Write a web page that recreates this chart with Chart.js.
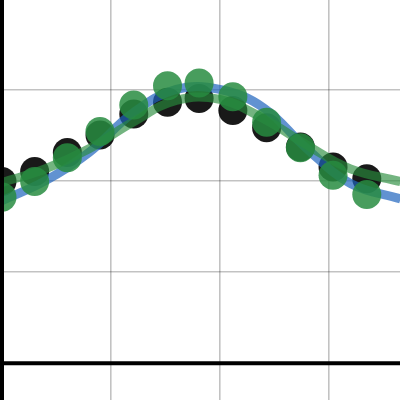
<!DOCTYPE html>
<html>
<head>
<meta charset="utf-8">
<script src="https://cdn.jsdelivr.net/npm/chart.js@4/dist/chart.umd.min.js"></script>
<style>
html,body{margin:0;padding:0;background:#fff;}
#wrap{width:400px;height:400px;position:relative;}
</style>
</head>
<body>
<div id="wrap"><canvas id="c"></canvas></div>
<script>
// Sample points (x positions shared by both scatter series)
const pointX = [0, 0.30, 0.60, 0.90, 1.21, 1.52, 1.81, 2.12, 2.43, 2.74, 3.04, 3.35];
const blackY = [1.99, 2.10, 2.31, 2.50, 2.73, 2.86, 2.90, 2.77, 2.58, 2.37, 2.15, 2.02];
const greenY = [1.82, 1.99, 2.25, 2.54, 2.83, 3.04, 3.07, 2.92, 2.64, 2.36, 2.06, 1.85];

// Smooth curves
const curveX = [0, 0.40, 0.80, 1.20, 1.60, 2.00, 2.40, 2.80, 3.20, 3.66];
const blueCurveY = [1.78, 2.00, 2.31, 2.74, 3.00, 3.00, 2.80, 2.35, 1.97, 1.80];
const greenCurveY = [1.98, 2.13, 2.35, 2.64, 2.88, 2.89, 2.68, 2.39, 2.13, 1.99];

const xRange = [-0.0184, 3.655];
const yRange = [-0.402, 3.979];

function pairs(xs, ys){ return xs.map((x,i)=>({x:x, y:ys[i]})); }

const axisLines = {
  id: 'axisLines',
  afterDatasetsDraw(chart){
    const {ctx, chartArea, scales} = chart;
    const x0 = scales.x.getPixelForValue(0);
    const y0 = scales.y.getPixelForValue(0);
    ctx.save();
    ctx.strokeStyle = '#000';
    ctx.lineWidth = 4;
    ctx.beginPath();
    ctx.moveTo(x0, chartArea.top); ctx.lineTo(x0, chartArea.bottom);
    ctx.moveTo(chartArea.left, y0); ctx.lineTo(chartArea.right, y0);
    ctx.stroke();
    ctx.restore();
  }
};

const gridOpts = {
  drawTicks: false,
  color: (c) => (c.tick && c.tick.value === 0) ? 'rgba(0,0,0,0)' : 'rgba(0,0,0,0.24)',
  lineWidth: 1.6
};

new Chart(document.getElementById('c'), {
  type: 'scatter',
  data: {
    datasets: [
      {
        label: 'green points',
        data: pairs(pointX, greenY),
        backgroundColor: 'rgba(40,140,65,0.85)',
        borderWidth: 0,
        pointRadius: 14.5,
        pointHoverRadius: 14.5,
        order: 0
      },
      {
        type: 'line',
        label: 'green curve',
        data: pairs(curveX, greenCurveY),
        borderColor: 'rgba(40,140,60,0.65)',
        borderWidth: 9,
        pointRadius: 0,
        tension: 0.4,
        fill: false,
        order: 1
      },
      {
        type: 'line',
        label: 'blue curve',
        data: pairs(curveX, blueCurveY),
        borderColor: 'rgba(30,100,190,0.7)',
        borderWidth: 9,
        pointRadius: 0,
        tension: 0.4,
        fill: false,
        order: 2
      },
      {
        label: 'black points',
        data: pairs(pointX, blackY),
        backgroundColor: 'rgba(0,0,0,0.9)',
        borderWidth: 0,
        pointRadius: 14.5,
        pointHoverRadius: 14.5,
        order: 3
      }
    ]
  },
  options: {
    responsive: true,
    maintainAspectRatio: false,
    animation: false,
    layout: { padding: 0, autoPadding: false },
    plugins: { legend: { display: false }, tooltip: { enabled: false } },
    scales: {
      x: {
        type: 'linear',
        min: xRange[0], max: xRange[1],
        ticks: { display: false, stepSize: 1, includeBounds: false },
        grid: gridOpts,
        border: { display: false }
      },
      y: {
        type: 'linear',
        min: yRange[0], max: yRange[1],
        ticks: { display: false, stepSize: 1, includeBounds: false },
        grid: gridOpts,
        border: { display: false }
      }
    }
  },
  plugins: [axisLines]
});
</script>
</body>
</html>
